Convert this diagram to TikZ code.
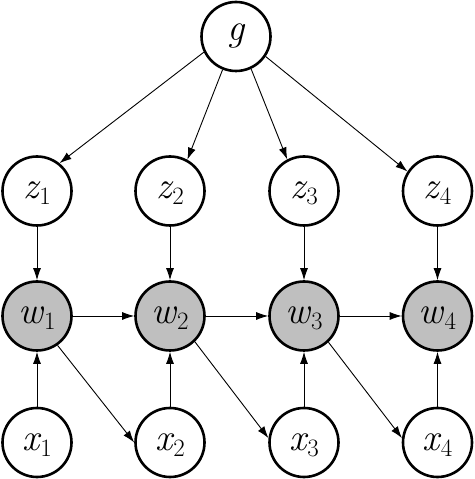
\documentclass[tikz,border=0pt]{standalone}
\usetikzlibrary{arrows.meta}
\newcommand{\vlab}[2]{{\itshape #1}\kern1pt\raisebox{-6pt}{\fontsize{25}{25}\selectfont #2}}
\begin{document}
\begin{tikzpicture}[x=1pt,y=1pt,
  var/.style={circle,draw=black,line width=2.6pt,minimum size=69pt,inner sep=0pt,fill=white,
    font=\fontsize{38}{38}\selectfont},
  sub/.style={text height=22pt,text depth=6pt},
  obs/.style={var,fill=black!25},
  edge/.style={line width=0.9pt,-{Latex[length=12pt,width=8pt]}}]
\useasboundingbox (0,0) rectangle (474,479);
\node[var] (g) at (236,442.5) {\itshape g};
\foreach \i/\x in {1/37,2/170,3/304,4/437.5}{
  \node[var,sub] (z\i) at (\x,288) {\vlab{z}{\i}};
  \node[obs,sub] (w\i) at (\x,163) {\vlab{w}{\i}};
  \node[var,sub] (x\i) at (\x,36.5) {\vlab{x}{\i}};
}
\draw[edge] (g.206) -- (z1.51);
\draw[edge] (g.-112) -- (z2.61);
\draw[edge] (g.-65) -- (z3.118);
\draw[edge] (g.-34) -- (z4.147);
\foreach \i in {1,2,3,4}{
  \draw[edge] (z\i.south) -- (w\i.north);
  \draw[edge] (x\i.north) -- (w\i.south);
}
\draw[edge] (w1.east) -- (w2.west);
\draw[edge] (w2.east) -- (w3.west);
\draw[edge] (w3.east) -- (w4.west);
\draw[edge] (w1.-55) -- (x2.180);
\draw[edge] (w2.-46) -- (x3.173);
\draw[edge] (w3.-47) -- (x4.173);
\end{tikzpicture}
\end{document}
